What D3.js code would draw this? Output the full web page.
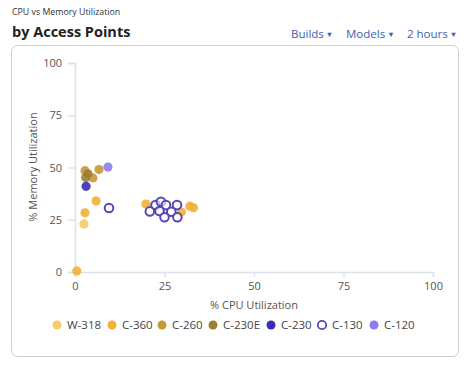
<!DOCTYPE html>
<html><head><meta charset="utf-8">
<script src="https://cdn.jsdelivr.net/npm/d3@7"></script>
<style>
body{margin:0;background:#fff;font-family:"Open Sans",sans-serif;}
</style></head>
<body>
<svg id="c" width="474" height="374"></svg>
<script>
const seriesNames = ["W-318","C-360","C-260","C-230E","C-230","C-130","C-120"];
const seriesColors = ["#f4cb66","#f2b035","#c89839","#9c8030","#3b2db3","#5846b6","#8c7cf0"];
const hollow = ["C-130"];
const xTicks = [0,25,50,75,100];
const yTicks = [0,25,50,75,100];
const pointsW318 = [[2.5,23]];
const pointsC360 = [[0.5,0.5],[2.8,28.3],[5.9,34],[19.8,32.5],[29.7,28.7],[32.1,31.5],[33.1,30.8]];
const pointsC260 = [[2.8,48.5],[6.7,49],[5,45]];
const pointsC230E = [[3.6,47],[3,45.2]];
const pointsC230 = [[3.1,41]];
const pointsC130 = [[9.5,30.6],[20.9,29],[22.5,32],[24,33.6],[25.4,32],[28.5,32],[23.6,29.2],[26.9,28.8],[25,26.2],[28.6,26.2]];
const pointsC120 = [[9.2,50.2]];
const seriesPoints = [pointsW318,pointsC360,pointsC260,pointsC230E,pointsC230,pointsC130,pointsC120];

const svg = d3.select("#c");
// Header
svg.append("text").attr("x",12).attr("y",15).attr("font-size",8.8).attr("fill","#333").text("CPU vs Memory Utilization");
svg.append("text").attr("x",12).attr("y",37).attr("font-size",14.5).attr("font-weight","bold").attr("fill","#222").text("by Access Points");
const menus = [["Builds",291],["Models",346],["2 hours",407]];
menus.forEach(([t,x])=>{
  const g = svg.append("text").attr("x",x).attr("y",38).attr("font-size",11.5).attr("fill","#3a62b0");
  g.append("tspan").text(t);
  g.append("tspan").attr("dx",2).attr("dy",-1).attr("font-size",7.5).text("▼");
});
// card
svg.append("rect").attr("x",11.5).attr("y",45.5).attr("width",447).attr("height",311).attr("rx",6)
  .attr("fill","#fff").attr("stroke","#cfcfcf");

const x = d3.scaleLinear().domain([0,100]).range([75,433]);
const y = d3.scaleLinear().domain([0,100]).range([272,63]);

const xa = svg.append("g").attr("transform","translate(0,272)")
  .call(d3.axisBottom(x).tickValues(xTicks).tickSize(5).tickPadding(5));
const ya = svg.append("g").attr("transform","translate(75,0)")
  .call(d3.axisLeft(y).tickValues(yTicks).tickSize(7).tickPadding(6));
[xa,ya].forEach(a=>{
  a.selectAll("path").attr("stroke","#dde1e8").attr("stroke-width",1.5);
  a.selectAll("line").attr("stroke","#dde1e8").attr("stroke-width",1.5);
  a.selectAll("text").attr("fill","#555").attr("font-size",11).attr("font-family","Open Sans");
});
svg.append("text").attr("x",254).attr("y",309).attr("text-anchor","middle").attr("font-size",11).attr("fill","#555").text("% CPU Utilization");
svg.append("text").attr("transform","translate(37,167) rotate(-90)").attr("text-anchor","middle").attr("font-size",11).attr("fill","#555").text("% Memory Utilization");

seriesNames.forEach((n,i)=>{
  const h = hollow.includes(n);
  svg.append("g").selectAll("circle").data(seriesPoints[i]).join("circle")
    .attr("cx",d=>x(d[0])).attr("cy",d=>y(d[1]))
    .attr("r",h?4.3:4.6)
    .attr("fill",h?"#fff":seriesColors[i])
    .attr("fill-opacity",h?0.6:0.9)
    .attr("stroke",h?seriesColors[i]:"none")
    .attr("stroke-width",h?2:0);
});

// legend
const legX = [57,112,162,213,271,322,374];
seriesNames.forEach((n,i)=>{
  const h = hollow.includes(n);
  svg.append("circle").attr("cx",legX[i]).attr("cy",325).attr("r",h?4.2:4.5)
    .attr("fill",h?"#fff":seriesColors[i]).attr("stroke",h?seriesColors[i]:"none").attr("stroke-width",h?1.8:0);
  svg.append("text").attr("x",legX[i]+10).attr("y",329).attr("font-size",11.5).attr("fill","#444").text(n);
});
</script>
</body></html>
